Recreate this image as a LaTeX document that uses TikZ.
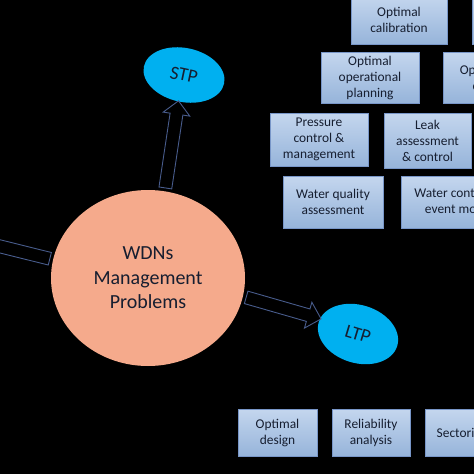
\documentclass[tikz,border=0pt]{standalone}
\usepackage{fontspec}
\setmainfont{Carlito}
\usetikzlibrary{shapes.geometric,shapes.arrows,calc}

\definecolor{wdnfill}{RGB}{245,170,140}
\definecolor{horfill}{RGB}{0,176,240}
\definecolor{boxtop}{RGB}{196,214,238}
\definecolor{boxbot}{RGB}{150,180,218}
\definecolor{boxline}{RGB}{120,150,200}
\definecolor{arrline}{RGB}{72,92,140}
\definecolor{txt}{RGB}{22,30,48}

\begin{document}
\begin{tikzpicture}[
    x=1pt, y=-1pt,
    task/.style={draw=boxline, top color=boxtop, bottom color=boxbot, align=center, inner sep=0pt,
        text=txt, font=\fontsize{13.4}{16}\selectfont},
    horizon/.style={ellipse, fill=horfill, text=txt, minimum width=82pt, minimum height=54pt,
        inner sep=0pt, font=\fontsize{19}{22}\selectfont},
    bigarr/.style={single arrow, draw=arrline, line width=0.9pt, inner xsep=0pt, inner ysep=6pt,
        minimum width=0pt, single arrow head extend=7pt, single arrow head indent=0pt}
]
\useasboundingbox (0,0) rectangle (474,474);
\fill[black] (0,0) rectangle (474,474);
\clip (0,0) rectangle (474,474);

% main problem
\node[ellipse, fill=wdnfill, minimum width=194pt, minimum height=176pt, align=center, text=txt,
    font=\fontsize{20}{24.5}\selectfont] (wdn) at (148,278) {WDNs\\Management\\Problems};

% planning horizons
\node[horizon, rotate=-12] (stp) at (184,75) {STP};
\node[horizon, rotate=-17, minimum height=58pt] (ltp) at (358,334) {LTP};

% short term tasks
\node[task, minimum width=96pt, minimum height=48pt] (cal) at (399,20) {Optimal\\calibration};
\node[task, minimum width=96pt, minimum height=48pt] (cut) at (520,20) {};
\node[task, minimum width=98pt, minimum height=51pt] (oop) at (370,77.5) {Optimal\\operational\\planning};
\node[task, minimum width=98pt, minimum height=51pt] (opc) at (492,77.5) {Operational\\control};
\node[task, minimum width=98pt, minimum height=53pt] (pcm) at (319,139.5) {Pressure\\control \&\\management};
\node[task, minimum width=87pt, minimum height=55pt] (lac) at (427.5,140.5) {Leak\\assessment\\\& control};
\node[task, minimum width=100pt, minimum height=52pt] (wqa) at (333,202) {Water quality\\assessment};
\node[task, minimum width=142pt, minimum height=52pt] (wce) at (472,202) {Water contamination\\event monitoring};

% long term tasks
\node[task, minimum width=79pt, minimum height=47pt] (od) at (277.5,432.5) {Optimal\\design};
\node[task, minimum width=78pt, minimum height=47pt] (ra) at (371,432.5) {Reliability\\analysis};
\node[task, minimum width=94pt, minimum height=47pt] (sec) at (472,432.5) {Sectorization};

% block arrows
\coordinate (stptip) at (178,104);
\coordinate (ltptip) at (318,318);
\coordinate (lefttip) at (-90,224);
\foreach \a/\b in {wdn.79/stptip, wdn.-11/ltptip, wdn.169/lefttip}
    \path let \p1=(\a), \p2=(\b), \n1={atan2(\y2-\y1,\x2-\x1)}, \n2={veclen(\x2-\x1,\y2-\y1)} in
        node[bigarr, rotate=\n1, minimum height=\n2] at ($(\p1)!0.5!(\p2)$) {};
\end{tikzpicture}
\end{document}
